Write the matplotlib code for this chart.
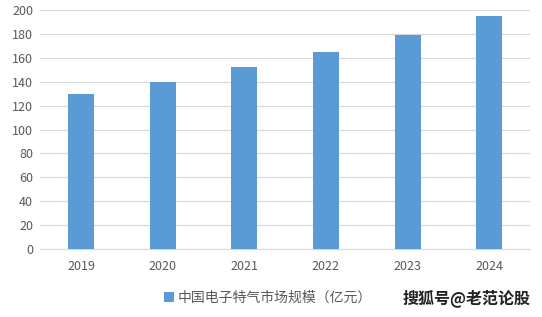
import matplotlib.pyplot as plt

plt.rcParams['font.family'] = ['Noto Sans CJK SC', 'DejaVu Sans']

years = ['2019', '2020', '2021', '2022', '2023', '2024']
market_size = [130, 140, 152, 165, 179, 195]
y_ticks = [0, 20, 40, 60, 80, 100, 120, 140, 160, 180, 200]
series_name = '中国电子特气市场规模（亿元）'
watermark = '搜狐号@老范论股'

fig = plt.figure(figsize=(5.42, 3.17), dpi=100)
ax = fig.add_axes([0.074, 0.2145, 0.904, 0.7535])

x = range(len(years))
ax.bar(x, market_size, width=0.32, color='#5B9BD5', label=series_name, zorder=3)

ax.set_xlim(-0.5, len(years) - 0.5)
ax.set_ylim(0, 200)
ax.set_yticks(y_ticks)
ax.set_xticks(list(x))
ax.set_xticklabels(years)
ax.grid(axis='y', color='#D9D9D9', linewidth=0.9, zorder=0)
for s in ['top', 'right', 'left']:
    ax.spines[s].set_visible(False)
ax.spines['bottom'].set_color('#D9D9D9')
ax.tick_params(axis='both', length=0, labelsize=9, colors='#595959')
ax.tick_params(axis='x', pad=8)
ax.tick_params(axis='y', pad=5)

fig.legend(loc='center', bbox_to_anchor=(0.495, 0.06), frameon=False, fontsize=10,
           handlelength=0.7, handleheight=0.7, handletextpad=0.3,
           labelcolor='#595959')

fig.text(0.743, 0.06, watermark, fontsize=11.5, color='#222222',
         va='center', ha='left', fontweight='bold')

fig.savefig('out.png', dpi=100)
